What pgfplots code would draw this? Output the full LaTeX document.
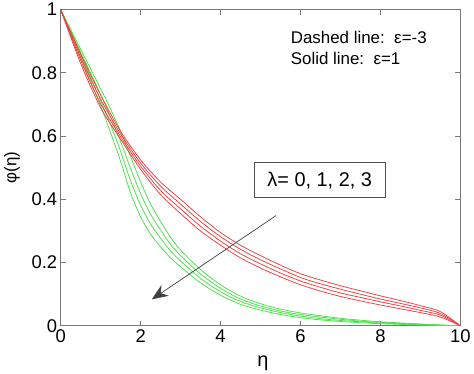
\documentclass[border=0pt]{standalone}
\usepackage{fontspec}
\setmainfont{Liberation Sans}
\usepackage{pgfplots}
\pgfplotsset{compat=1.18}
\usetikzlibrary{arrows.meta}
\definecolor{cred}{RGB}{235,70,70}
\definecolor{cgreen}{RGB}{80,225,80}
\definecolor{axgray}{RGB}{120,120,120}
\begin{document}
\begin{tikzpicture}
\begin{axis}[
  width=402pt, height=318pt, scale only axis,
  xmin=0, xmax=10, ymin=0, ymax=1,
  xtick={0,2,4,6,8,10}, ytick={0,0.2,0.4,0.6,0.8,1},
  yticklabels={0,0.2,0.4,0.6,0.8,1},
  xticklabels={0,2,4,6,8,10},
  tick align=inside, major tick length=5pt,
  axis line style={axgray, line width=0.8pt},
  tick style={axgray, line width=0.8pt},
  ticklabel style={font=\fontsize{18.5}{20}\selectfont, text=black},
  /pgf/number format/assume math mode=true,
  xlabel={η}, ylabel={φ(η)},
  xlabel style={font=\fontsize{20}{22}\selectfont, at={(axis description cs:0.506,-0.118)}, anchor=center},
  ylabel style={font=\fontsize{17}{19}\selectfont, at={(axis description cs:-0.122,0.5)}, anchor=center},
  every axis plot/.append style={line width=0.8pt, smooth, tension=0.5},
  clip=true,
]
% eps=1 (green), lambda = 0,1,2,3
\addplot[cgreen] coordinates {(0,1) (0.5,0.875) (1,0.750) (1.25,0.685) (1.5,0.615) (1.75,0.535) (2,0.455) (2.25,0.385) (2.5,0.330) (2.75,0.280) (3,0.240) (3.5,0.178) (4,0.130) (4.5,0.094) (5,0.070) (5.5,0.053) (6,0.041) (6.5,0.032) (7,0.024) (7.5,0.018) (8,0.013) (9,0.006) (10,0)};
\addplot[cgreen] coordinates {(0,1) (0.5,0.866) (1,0.732) (1.25,0.660) (1.5,0.583) (1.75,0.497) (2,0.418) (2.25,0.353) (2.5,0.303) (2.75,0.258) (3,0.222) (3.5,0.164) (4,0.119) (4.5,0.085) (5,0.063) (5.5,0.047) (6,0.036) (6.5,0.028) (7,0.021) (7.5,0.015) (8,0.011) (9,0.005) (10,0)};
\addplot[cgreen] coordinates {(0,1) (0.5,0.857) (1,0.713) (1.25,0.635) (1.5,0.552) (1.75,0.458) (2,0.382) (2.25,0.322) (2.5,0.277) (2.75,0.237) (3,0.205) (3.5,0.150) (4,0.108) (4.5,0.077) (5,0.057) (5.5,0.042) (6,0.031) (6.5,0.023) (7,0.017) (7.5,0.013) (8,0.009) (9,0.004) (10,0)};
\addplot[cgreen] coordinates {(0,1) (0.5,0.848) (1,0.695) (1.25,0.610) (1.5,0.520) (1.75,0.420) (2,0.345) (2.25,0.290) (2.5,0.250) (2.75,0.215) (3,0.187) (3.5,0.136) (4,0.097) (4.5,0.068) (5,0.050) (5.5,0.036) (6,0.026) (6.5,0.019) (7,0.014) (7.5,0.010) (8,0.007) (9,0.003) (10,0)};
% eps=-3 (red), lambda = 0,1,2,3
\addplot[cred] coordinates {(0,1) (0.5,0.860) (1,0.730) (1.5,0.615) (2,0.525) (2.5,0.455) (3,0.400) (3.5,0.345) (4,0.295) (4.5,0.255) (5,0.222) (5.5,0.192) (6,0.165) (6.5,0.145) (7,0.127) (7.5,0.111) (8,0.095) (8.5,0.080) (9,0.064) (9.5,0.045) (10,0)};
\addplot[cred] coordinates {(0,1) (0.5,0.850) (1,0.717) (1.5,0.607) (2,0.515) (2.5,0.442) (3,0.385) (3.5,0.330) (4,0.282) (4.5,0.242) (5,0.209) (5.5,0.180) (6,0.153) (6.5,0.133) (7,0.116) (7.5,0.100) (8,0.085) (8.5,0.071) (9,0.057) (9.5,0.039) (10,0)};
\addplot[cred] coordinates {(0,1) (0.5,0.840) (1,0.703) (1.5,0.598) (2,0.505) (2.5,0.428) (3,0.370) (3.5,0.315) (4,0.268) (4.5,0.228) (5,0.196) (5.5,0.167) (6,0.142) (6.5,0.122) (7,0.104) (7.5,0.090) (8,0.076) (8.5,0.063) (9,0.049) (9.5,0.034) (10,0)};
\addplot[cred] coordinates {(0,1) (0.5,0.830) (1,0.690) (1.5,0.590) (2,0.495) (2.5,0.415) (3,0.355) (3.5,0.300) (4,0.255) (4.5,0.215) (5,0.183) (5.5,0.155) (6,0.130) (6.5,0.110) (7,0.093) (7.5,0.079) (8,0.066) (8.5,0.054) (9,0.042) (9.5,0.028) (10,0)};
% annotations
\node[anchor=base west, font=\fontsize{17}{19}\selectfont] at (axis cs:5.67,0.892) {Dashed line:\ \ ε=-3};
\node[anchor=base west, font=\fontsize{17}{19}\selectfont] at (axis cs:5.67,0.825) {Solid line:\ \ ε=1};
\draw[black!75, line width=0.7pt, -{Stealth[length=16pt, width=13pt, inset=5pt]}] (axis cs:5.39,0.349) -- (axis cs:2.28,0.084);
\node[draw=black!70, line width=0.7pt, fill=white, minimum width=131pt, minimum height=35pt, inner sep=0pt, font=\fontsize{20}{22}\selectfont] at (axis cs:6.48,0.461) {λ= 0, 1, 2, 3};
\end{axis}
\path (current axis.south west) ++(-61pt,-46pt) coordinate (bbA);
\path (current axis.north east) ++(11pt,9pt) coordinate (bbB);
\path (bbA) rectangle (bbB);
\end{tikzpicture}
\end{document}
